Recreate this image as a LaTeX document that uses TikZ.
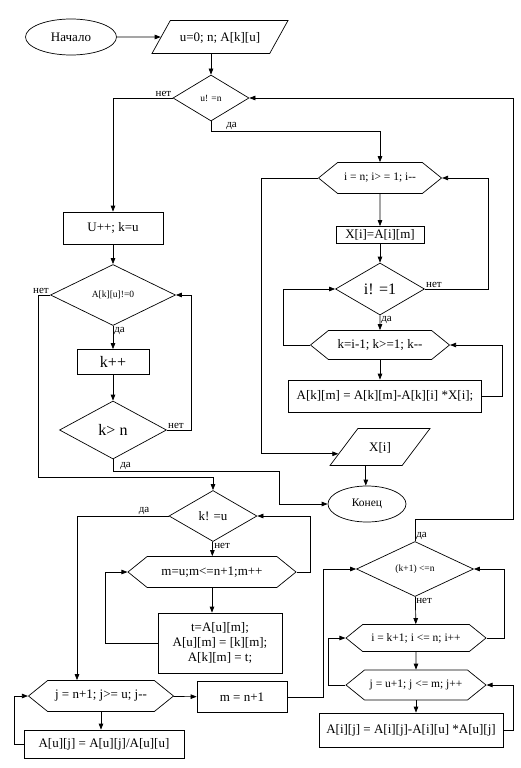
\documentclass[tikz,border=0pt]{standalone}
\usepackage{fontspec}
\setmainfont{Liberation Serif}
\usetikzlibrary{shapes.geometric, shapes.symbols, arrows.meta, calc}
\tikzset{
    every path/.style={line width=0.7pt},
    arr/.style={-{Triangle[length=6pt,width=4.5pt]}},
    term/.style={draw, ellipse, inner sep=0pt},
    io/.style={draw, trapezium, trapezium stretches body, inner sep=0pt},
    box/.style={draw, rectangle, inner sep=0pt},
    cond/.style={draw, diamond, inner sep=0pt},
    loop/.style={draw, signal, signal to=west and east, signal pointer angle=78, inner sep=0pt},
    lbl/.style={font=\fontsize{11}{12}\selectfont, inner sep=1pt},
    fbig/.style={font=\fontsize{16}{18}\selectfont},
    fmain/.style={font=\fontsize{13}{15}\selectfont},
    fmid/.style={font=\fontsize{11.5}{13}\selectfont},
    fsmall/.style={font=\fontsize{9.5}{11}\selectfont}
}

\begin{document}
\begin{tikzpicture}[x=1pt, y=-1pt]
    \useasboundingbox (0,0) rectangle (520,768);

    % Start and input
    \node[term, fmain, minimum width=91, minimum height=36] (nach) at (71,37) {Начало};
    \node[io, fmain, trapezium left angle=61, trapezium right angle=119,
          text height=21pt, text depth=12pt, minimum width=136] (pin) at (220,37) {u=0; n; A[k][u]};
    \node[cond, fsmall, minimum width=76, minimum height=46] (un) at (211,98) {u! =n};

    % Left column
    \node[box, fmain, minimum width=100, minimum height=32] (upk) at (113,228) {U++; k=u};
    \node[cond, fsmall, minimum width=125, minimum height=61] (akz) at (113,295) {A[k][u]!=0};
    \node[box, fbig, minimum width=72, minimum height=25] (kpp) at (113,362) {k++};
    \node[cond, fbig, minimum width=107, minimum height=58] (kgn) at (113,430) {k> n};

    % Right column
    \node[loop, fmid, minimum width=123, minimum height=31] (hx1) at (380,178) {i = n; i> = 1; i-{}-};
    \node[box, fmain, minimum width=88, minimum height=17] (xa) at (380,235) {X[i]=A[i][m]};
    \node[cond, fbig, minimum width=89, minimum height=52] (ine1) at (380,289) {i! =1};
    \node[loop, fmain, minimum width=139, minimum height=29] (hx2) at (380,345) {k=i-1; k>=1; k-{}-};
    \node[box, fmain, minimum width=193, minimum height=32] (akm) at (385,396) {A[k][m] = A[k][m]-A[k][i] *X[i];};
    \node[io, fmain, trapezium left angle=53, trapezium right angle=127,
          text height=22.5pt, text depth=14.5pt, minimum width=100] (xi) at (380,447) {X[i]};
    \node[term, fmid, minimum width=78, minimum height=36] (kon) at (367,504) {Конец};

    % Swap block
    \node[cond, fmain, minimum width=88, minimum height=51] (kne) at (213,516) {k! =u};
    \node[loop, fmain, minimum width=168, minimum height=31] (hx4) at (212,572) {m=u;m<=n+1;m++};
    \node[box, fmain, align=center, minimum width=124, minimum height=60] (swp) at (220,643)
        {t=A[u][m];\\ A[u][m] = [k][m];\\ A[k][m] = t;};
    \node[loop, fmain, minimum width=145, minimum height=31] (hx3) at (101,696) {j = n+1; j>= u; j-{}-};
    \node[box, fmain, minimum width=90, minimum height=31] (mn1) at (242,697) {m = n+1};
    \node[box, fmain, minimum width=160, minimum height=28] (auj) at (104,744) {A[u][j] = A[u][j]/A[u][u]};

    % Elimination block
    \node[cond, fsmall, minimum width=117, minimum height=55] (kp1) at (415,569) {(k+1) <=n};
    \node[loop, fmid, minimum width=140, minimum height=27] (hx5) at (416,638) {i = k+1; i <= n; i++};
    \node[loop, fmid, minimum width=140, minimum height=30] (hx6) at (416,685) {j = u+1; j <= m; j++};
    \node[box, fmain, minimum width=184, minimum height=34] (aij) at (411,730) {A[i][j] = A[i][j]-A[i][u] *A[u][j]};

    % Points on the slanted edges of X[i]
    \coordinate (xin) at ($(xi.bottom left corner)!0.32!(xi.top left corner)$);
    \coordinate (xout) at ($(xi.bottom left corner)!0.5!(xi.bottom right corner)$);

    % Top
    \draw[arr] (nach) -- (pin);
    \draw[arr] (pin.south -| un.north) -- (un.north);
    \draw[arr] (un.west) -| (upk.north);
    \node[lbl, above left] at (un.west) {нет};
    \draw[arr] (un.south) -- ++(0,10) coordinate (unda) -| (hx1.north);
    \node[lbl, above right, xshift=14pt] at (unda) {да};

    % Left column
    \draw[arr] (upk) -- (akz);
    \draw[arr] (akz) -- (kpp);
    \node[lbl, below right] at (akz.south) {да};
    \draw[arr] (kpp) -- (kgn);
    \draw[arr] (kgn.east) -- ++(24,0) |- (akz.east);
    \node[lbl, above right] at (kgn.east) {нет};
    \draw[arr] (akz.west) -- ++(-12,0) |- ([yshift=13pt]kne.north) -- (kne.north);
    \node[lbl, above left] at (akz.west) {нет};
    \draw[arr] (kgn.south) -- ++(0,12) coordinate (kgnda) -| ([xshift=-48pt]kon.west) -- (kon.west);
    \node[lbl, above right, xshift=6pt] at (kgnda) {да};

    % Right column
    \draw[arr] (hx1) -- (xa);
    \draw[arr] (xa) -- (ine1);
    \draw[arr] (ine1) -- (hx2);
    \node[lbl, below right] at (ine1.south) {да};
    \draw[arr] (ine1.east) -- ++(63,0) |- (hx1.east);
    \node[lbl, above right] at (ine1.east) {нет};
    \draw[arr] (hx2.west) -- ++(-27,0) |- (ine1.west);
    \draw[arr] (hx2.south) -- (hx2.south |- akm.north);
    \draw[arr] (akm.east) -- ++(20,0) |- (hx2.east);
    \draw[arr] (hx1.west) -- ++(-57,0) |- (xin);
    \draw[arr] (xout) -- (xout |- kon.north);

    % Swap block
    \draw[arr] (kne) -- (hx4);
    \node[lbl, below right] at (kne.south) {нет};
    \draw[arr] (hx4.east) -- ++(14,0) |- (kne.east);
    \draw[arr] (hx4.south) -- (hx4.south |- swp.north);
    \draw[arr] (swp.west) -- ++(-52,0) |- (hx4.west);
    \draw[arr] (kne.west) -| ([xshift=-24pt]hx3.north);
    \node[lbl, above left, xshift=-18pt] at (kne.west) {да};
    \draw[arr] (hx3) -- (mn1);
    \draw[arr] (hx3.south) -- (hx3.south |- auj.north);
    \draw[arr] (auj.west) -- ++(-9,0) |- (hx3.west);
    \draw[arr] (mn1.east) -- ++(36,0) |- (kp1.west);

    % Elimination block
    \draw[arr] (kp1) -- (hx5);
    \node[lbl, below right] at (kp1.south) {нет};
    \draw[arr] (hx5.east) -- ++(18,0) |- (kp1.east);
    \draw[arr] (hx5) -- (hx6);
    \draw[arr] (hx6.west) -- ++(-17,0) |- (hx5.west);
    \draw[arr] (hx6.south) -- (hx6.south |- aij.north);
    \draw[arr] (aij.east) -- ++(10,0) |- (hx6.east);
    \draw[arr] (kp1.north) -- ++(0,-22) -| ([xshift=264pt]un.east) -- (un.east);
    \node[lbl, above right] at (kp1.north) {да};
\end{tikzpicture}
\end{document}
